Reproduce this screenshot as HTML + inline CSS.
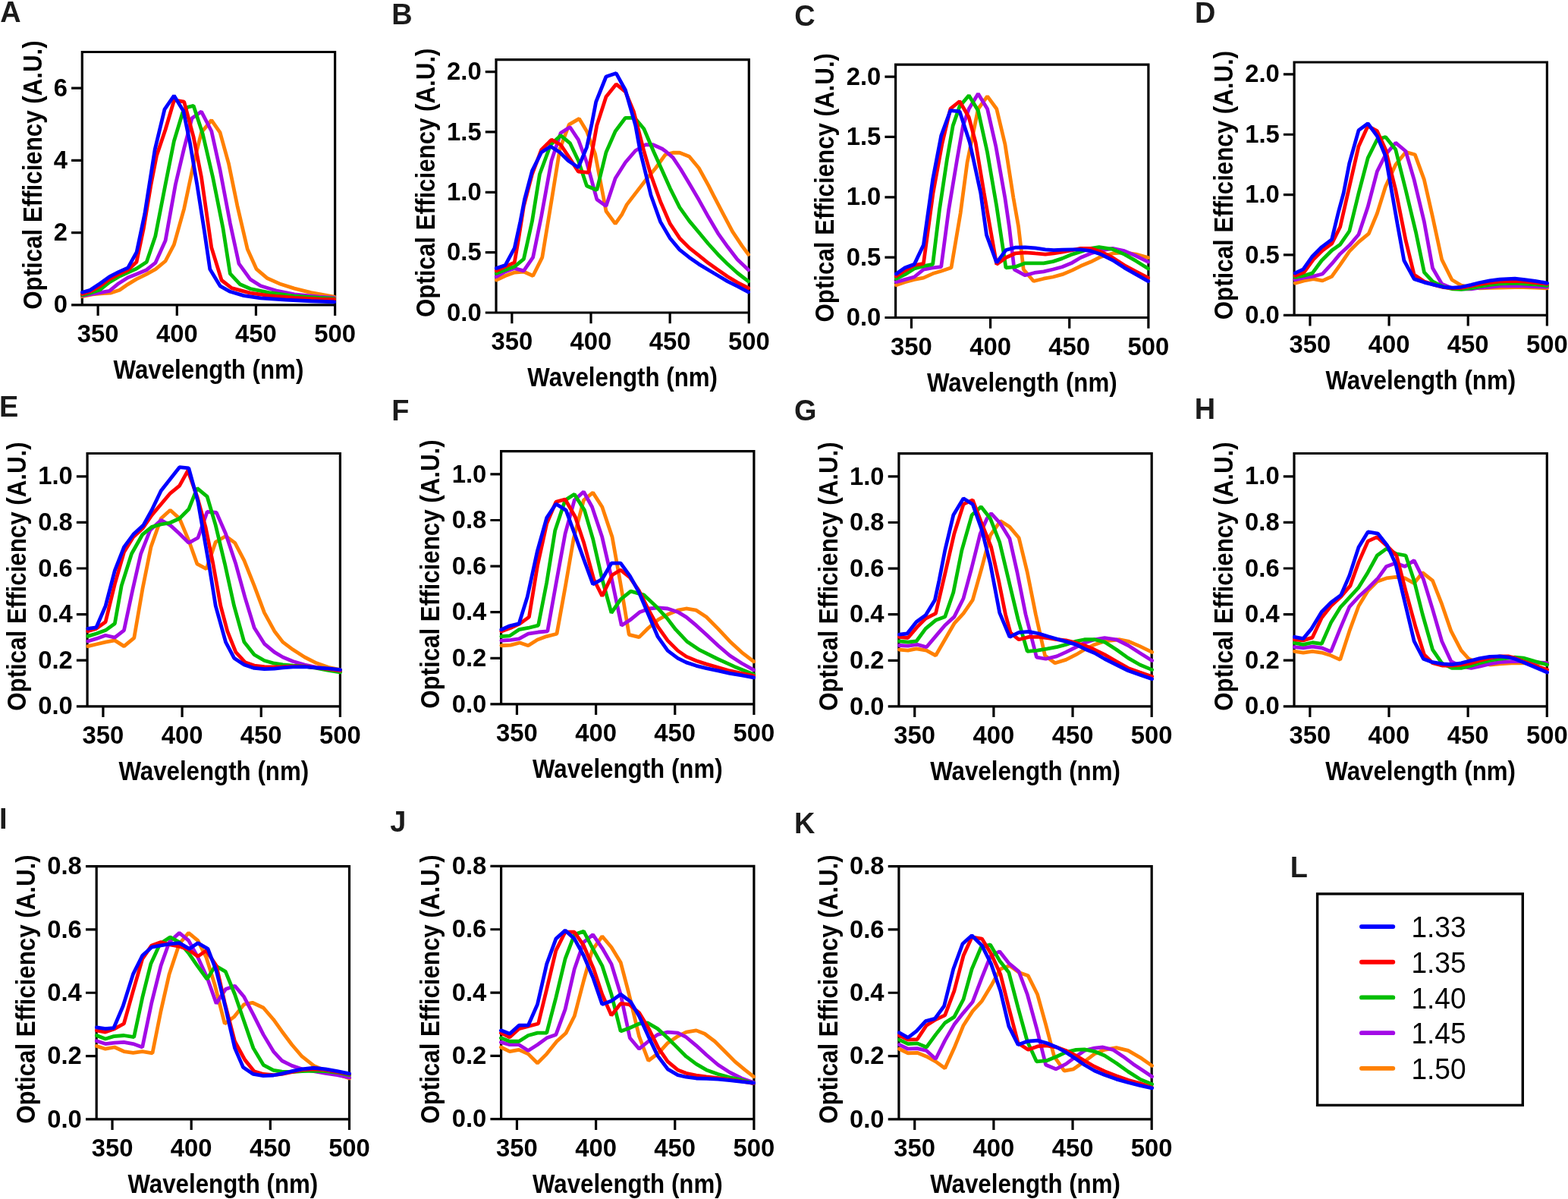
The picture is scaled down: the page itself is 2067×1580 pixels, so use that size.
<!DOCTYPE html>
<html><head><meta charset="utf-8"><title>Optical efficiency spectra</title>
<style>html,body{margin:0;padding:0;background:#fff;overflow:hidden;}svg{display:block;}text{font-family:"Liberation Sans",Arial,Helvetica,sans-serif;fill:#000000;}.t{font-weight:bold;font-size:32.8px;}.ti{font-weight:bold;font-size:34.3px;}.le{font-weight:bold;font-size:39.5px;fill:#1b1b1b;}.lg{font-size:39.3px;}.ax{fill:none;stroke:#000000;stroke-width:3.2;stroke-linecap:butt;}.cv{fill:none;stroke-width:4.8;stroke-linejoin:bevel;stroke-linecap:round;}</style></head><body>
<svg width="2067" height="1580" viewBox="0 0 2067 1580">
<rect x="0" y="0" width="2067" height="1580" fill="#fff"/>
<text class="le" transform="translate(0.16,28.8) scale(0.96,1)">A</text>
<path class="ax" d="M108.3,68.5H441.6V401.8H108.3ZM94.1,401.8H108.3M94.1,306.57H108.3M94.1,211.34H108.3M94.1,116.11H108.3M129.13,401.8V416M233.29,401.8V416M337.44,401.8V416M441.6,401.8V416" stroke-linejoin="miter"/>
<polyline class="cv" stroke="#FF8000" points="108.42,390.75 122.15,387.87 133.23,386.76 145.41,386.1 157.6,382.33 168.68,374.58 179.75,367.93 193.04,361.28 205.23,354.64 218.08,344.01 229.38,322.3 242.67,275.11 255.96,212.41 265.49,174.53 278.78,158.36 290.08,174.53 301.6,216.18 312.89,271.34 326.19,328.28 338.15,354.64 352.55,366.82 370.27,374.58 387.99,380.12 410.15,385.65 440.72,391.19"/>
<polyline class="cv" stroke="#A30AE6" points="108.42,389.64 132.12,385.65 144.31,383.44 156.49,373.47 168.68,365.72 179.97,361.28 193.04,355.75 204.79,346.44 218.08,316.98 231.37,242.99 242.67,195.36 253.08,155.7 265.49,147.06 278.78,172.76 290.08,223.93 303.37,294.16 314.89,347.33 329.95,368.15 343.69,376.79 365.84,383.44 387.99,387.87 421.22,391.19 440.72,392.3"/>
<polyline class="cv" stroke="#00BE00" points="108.42,388.98 118.83,386.1 132.12,381.67 144.31,371.92 156.49,364.61 168.68,359.07 179.97,353.97 193.27,345.33 204.79,311.22 218.08,242.99 229.38,186.05 240.89,147.95 247.32,141.3 255.07,139.31 267.26,176.53 280.55,233.46 293.84,299.92 303.37,360.62 316.66,374.8 329.95,380.56 354.76,385.65 387.99,390.08 421.22,392.3 440.72,393.41"/>
<polyline class="cv" stroke="#FF0000" points="108.42,387.43 118.83,384.1 132.12,376.79 144.31,367.93 156.49,361.28 168.68,355.75 179.97,345.33 189.5,299.92 199.03,242.99 206.56,204.88 218.08,170.77 229.6,131.78 242.67,134.21 255.07,180.29 265.49,233.46 278.78,326.28 292.07,369.26 305.36,379.67 329.95,386.1 354.76,389.64 387.99,392.3 421.22,394.07 440.72,394.51"/>
<polyline class="cv" stroke="#0000FF" points="108.42,385.21 118.83,382.33 132.12,373.47 144.31,364.61 156.49,358.4 168.68,352.87 180.19,332.04 190.83,281.53 204.12,197.35 216.97,144.18 229.38,126.02 241.78,146.18 250.64,189.6 259.73,242.99 269.25,303.69 276.78,354.86 290.08,376.79 303.37,384.32 321.53,389.64 343.69,392.96 376.92,395.18 410.15,396.73 440.72,397.84"/>
<text class="t" x="88.95" y="412.4" text-anchor="end">0</text>
<text class="t" x="88.95" y="317.17" text-anchor="end">2</text>
<text class="t" x="88.95" y="221.94" text-anchor="end">4</text>
<text class="t" x="88.95" y="126.71" text-anchor="end">6</text>
<text class="t" x="129.13" y="451" text-anchor="middle">350</text>
<text class="t" x="233.29" y="451" text-anchor="middle">400</text>
<text class="t" x="337.44" y="451" text-anchor="middle">450</text>
<text class="t" x="441.6" y="451" text-anchor="middle">500</text>
<text class="ti" transform="translate(274.95,499.2) scale(0.912,1)" text-anchor="middle">Wavelength (nm)</text>
<text class="ti" transform="translate(55.3,230.55) rotate(-90) scale(0.912,1)" text-anchor="middle">Optical Efficiency (A.U.)</text>
<text class="le" transform="translate(516.36,32) scale(0.96,1)">B</text>
<path class="ax" d="M654,78.7H987.3V412H654ZM639.8,412H654M639.8,332.64H654M639.8,253.29H654M639.8,173.93H654M639.8,94.57H654M674.83,412V426.2M778.99,412V426.2M883.14,412V426.2M987.3,412V426.2" stroke-linejoin="miter"/>
<polyline class="cv" stroke="#FF8000" points="654.3,369.07 666.05,363.53 678.23,359.1 690.41,357.99 702.6,363.53 714.78,339.16 728.07,258.08 738.04,196.27 750.23,164.15 763.52,156.4 773.49,173.01 784.57,202.92 798.97,278.24 811.15,294.86 820.01,282.27 826.32,269.62 839,253.16 851.65,236.7 864.3,221.51 876.97,203.78 887.09,201.26 895.95,201.26 908.6,206.33 921.27,221.51 933.92,244.3 940.26,256.95 952.91,281.01 965.58,305.07 978.23,324.05 986.6,335.44"/>
<polyline class="cv" stroke="#A30AE6" points="654.3,364.64 666.05,357.99 678.23,353.56 690.41,356.89 702.6,339.16 713.68,284.89 726.97,211.78 739.15,175.23 751.34,167.47 762.41,184.09 773.49,214 786.78,262.73 798.97,271.6 811.15,235.04 824.44,214 837.73,198.49 851.03,190.74 860.99,190.74 873.18,196.27 878.23,200 887.09,207.59 897.22,222.79 908.6,241.78 921.27,263.29 933.92,286.08 946.57,307.59 959.24,325.32 971.89,341.78 986.6,355.69"/>
<polyline class="cv" stroke="#00BE00" points="654.3,360.21 666.05,355.78 678.23,351.35 690.41,341.38 701.49,291.53 711.46,229.5 725.86,190.74 739.15,178.55 751.34,188.52 762.41,211.78 773.49,245.01 786.78,250.55 798.97,200.7 811.15,173.01 824.44,155.29 836.63,155.29 848.81,169.69 861.77,200 873.16,225.32 883.3,248.09 895.95,273.41 908.6,291.13 921.27,306.33 933.92,321.51 946.57,335.44 959.24,348.09 971.89,359.5 986.6,370.89"/>
<polyline class="cv" stroke="#FF0000" points="654.3,356.89 666.05,351.35 678.23,345.81 683.77,313.69 690.41,271.6 701.49,229.5 713.68,197.38 726.97,184.09 739.15,190.74 750.23,207.35 762.41,226.18 775.7,227.29 786.78,165.26 798.97,127.6 812.26,110.98 824.44,120.95 835.52,147.54 849.12,200 857.98,230.37 870.63,265.81 883.3,294.92 895.95,313.93 908.6,326.58 921.27,336.7 933.92,346.83 946.57,355.69 959.24,364.55 971.89,372.15 986.6,379.75"/>
<polyline class="cv" stroke="#0000FF" points="654.3,353.56 666.05,349.57 678.23,326.98 685.98,291.53 691.52,262.73 701.49,225.07 713.68,200.7 725.86,192.95 738.04,200.7 749.12,211.78 762.41,220.64 773.49,194.06 780.14,163.04 785.67,134.24 798.97,101.01 812.26,96.58 824.44,118.74 837.73,165.26 844.05,200 850.38,225.32 857.98,256.95 870.63,292.4 883.3,313.93 895.95,329.11 908.6,339.23 921.27,348.09 933.92,355.69 946.57,363.29 959.24,370.89 971.89,377.22 986.6,384.8"/>
<text class="t" x="634.65" y="422.6" text-anchor="end">0.0</text>
<text class="t" x="634.65" y="343.24" text-anchor="end">0.5</text>
<text class="t" x="634.65" y="263.89" text-anchor="end">1.0</text>
<text class="t" x="634.65" y="184.53" text-anchor="end">1.5</text>
<text class="t" x="634.65" y="105.17" text-anchor="end">2.0</text>
<text class="t" x="674.83" y="461.2" text-anchor="middle">350</text>
<text class="t" x="778.99" y="461.2" text-anchor="middle">400</text>
<text class="t" x="883.14" y="461.2" text-anchor="middle">450</text>
<text class="t" x="987.3" y="461.2" text-anchor="middle">500</text>
<text class="ti" transform="translate(820.65,509.4) scale(0.912,1)" text-anchor="middle">Wavelength (nm)</text>
<text class="ti" transform="translate(572.6,240.75) rotate(-90) scale(0.912,1)" text-anchor="middle">Optical Efficiency (A.U.)</text>
<text class="le" transform="translate(1047.34,34.31) scale(0.96,1)">C</text>
<path class="ax" d="M1180.6,85.2H1513.9V418.5H1180.6ZM1166.4,418.5H1180.6M1166.4,339.14H1180.6M1166.4,259.79H1180.6M1166.4,180.43H1180.6M1166.4,101.07H1180.6M1201.43,418.5V432.7M1305.59,418.5V432.7M1409.74,418.5V432.7M1513.9,418.5V432.7" stroke-linejoin="miter"/>
<polyline class="cv" stroke="#FF8000" points="1181.3,375.63 1193.05,371.64 1205.23,368.32 1217.41,366.1 1229.6,360.56 1240.68,357.24 1253.97,352.81 1266.15,280.81 1275.01,214.35 1289.41,143.46 1301.6,126.84 1313.78,143.46 1324.86,189.98 1335.93,260.87 1342.58,298.53 1349.23,355.02 1362.52,370.53 1375.81,367.21 1387.99,364.99 1400.18,361.67 1413.47,356.13 1424.55,350.59 1437.84,345.05 1451.13,338.41 1466.64,333.98 1482.15,332.87 1497.65,335.09 1513.6,339.52"/>
<polyline class="cv" stroke="#A30AE6" points="1181.3,371.64 1193.05,368.32 1205.23,364.99 1217.41,355.02 1229.6,352.81 1240.68,351.7 1250.64,276.38 1261.72,209.92 1269.47,165.61 1277.23,143.46 1289.41,123.52 1301.6,143.46 1312.67,192.2 1324.86,260.87 1330.4,298.53 1337.04,355.02 1351.44,362.78 1363.63,359.45 1375.81,357.9 1387.99,355.02 1400.18,351.7 1413.47,346.16 1424.55,339.52 1437.84,333.98 1448.92,330.66 1466.64,327.33 1482.15,330.66 1497.65,337.3 1513.6,345.05"/>
<polyline class="cv" stroke="#00BE00" points="1181.3,367.21 1193.05,361.67 1205.23,353.92 1217.41,350.59 1229.6,348.38 1238.46,276.38 1248.43,209.92 1256.18,165.61 1265.04,140.14 1277.23,125.74 1289.41,145.68 1301.6,201.06 1313.78,271.95 1325.97,352.81 1338.15,351.7 1351.44,346.83 1364.73,346.83 1375.81,346.83 1387.99,344.61 1400.18,340.62 1413.47,335.09 1424.55,331.76 1437.84,327.33 1448.92,325.56 1466.64,328.44 1482.15,335.09 1497.65,343.95 1513.6,353.92"/>
<polyline class="cv" stroke="#FF0000" points="1181.3,363.89 1193.05,356.57 1205.23,349.49 1217.41,347.27 1230.04,254.23 1241.78,189.98 1252.86,143.46 1265.04,133.49 1277.23,154.54 1286.09,187.77 1297.17,254.23 1304.92,298.53 1313.78,348.38 1325.97,339.52 1338.15,333.98 1351.44,332.87 1364.73,333.98 1378.03,335.09 1389.1,333.98 1400.18,332.21 1413.47,329.55 1424.55,327.33 1437.84,327.33 1451.13,331.76 1466.64,339.52 1482.15,349.49 1497.65,357.9 1513.6,366.1"/>
<polyline class="cv" stroke="#0000FF" points="1181.3,361.01 1193.05,352.81 1205.23,348.38 1217.41,322.9 1229.6,236.5 1240.68,178.91 1252.86,145.68 1265.04,146.78 1278.34,187.77 1292.74,254.23 1300.49,309.61 1313.78,346.16 1325.97,329.55 1338.15,326.22 1351.44,325.78 1364.73,326.89 1378.03,328.88 1389.1,329.55 1400.18,329.1 1413.47,328.88 1424.55,328.88 1437.84,330.66 1451.13,335.09 1466.64,342.84 1482.15,352.81 1497.65,361.67 1513.6,370.53"/>
<text class="t" x="1161.25" y="429.1" text-anchor="end">0.0</text>
<text class="t" x="1161.25" y="349.74" text-anchor="end">0.5</text>
<text class="t" x="1161.25" y="270.39" text-anchor="end">1.0</text>
<text class="t" x="1161.25" y="191.03" text-anchor="end">1.5</text>
<text class="t" x="1161.25" y="111.67" text-anchor="end">2.0</text>
<text class="t" x="1201.43" y="467.7" text-anchor="middle">350</text>
<text class="t" x="1305.59" y="467.7" text-anchor="middle">400</text>
<text class="t" x="1409.74" y="467.7" text-anchor="middle">450</text>
<text class="t" x="1513.9" y="467.7" text-anchor="middle">500</text>
<text class="ti" transform="translate(1347.25,515.9) scale(0.912,1)" text-anchor="middle">Wavelength (nm)</text>
<text class="ti" transform="translate(1099.2,247.25) rotate(-90) scale(0.912,1)" text-anchor="middle">Optical Efficiency (A.U.)</text>
<text class="le" transform="translate(1575.06,29.7) scale(0.96,1)">D</text>
<path class="ax" d="M1706.1,82H2039.4V415.3H1706.1ZM1691.9,415.3H1706.1M1691.9,335.94H1706.1M1691.9,256.59H1706.1M1691.9,177.23H1706.1M1691.9,97.87H1706.1M1726.93,415.3V429.5M1831.09,415.3V429.5M1935.24,415.3V429.5M2039.4,415.3V429.5" stroke-linejoin="miter"/>
<polyline class="cv" stroke="#FF8000" points="1707.3,373.18 1719.05,369.85 1731.23,367.64 1743.41,369.85 1755.6,364.32 1766.68,348.81 1778.86,331.09 1791.04,318.9 1804.34,307.82 1815.41,281.24 1826.49,245.8 1839.78,217 1853.07,200.38 1865.26,203.7 1877.44,236.93 1888.52,285.67 1900.7,342.16 1913.99,368.75 1926.18,376.06 1939.47,378.72 1950.55,379.82 1963.84,379.38 1977.13,379.16 1997.07,378.72 2008.15,378.72 2023.65,379.16 2039.6,379.82"/>
<polyline class="cv" stroke="#A30AE6" points="1707.3,368.75 1719.05,365.87 1730.12,364.32 1743.41,360.99 1755.6,347.7 1766.68,334.41 1778.86,323.33 1791.04,308.93 1803.23,272.38 1815.41,225.86 1826.49,203.7 1839.78,188.2 1853.07,199.27 1864.15,236.93 1877.44,292.32 1888.52,353.24 1900.7,374.28 1913.99,379.82 1926.18,380.93 1939.47,380.93 1950.55,379.16 1963.84,378.27 1977.13,376.94 1997.07,376.5 2008.15,376.94 2023.65,377.61 2039.6,378.27"/>
<polyline class="cv" stroke="#00BE00" points="1707.3,365.42 1719.05,363.21 1730.12,359.89 1742.31,343.27 1755.6,329.98 1766.68,322.22 1778.86,304.5 1791.04,254.66 1803.23,208.14 1815.41,183.77 1826.49,180.44 1839.78,197.06 1853.07,250.23 1866.37,305.61 1877.44,358.78 1888.52,370.96 1901.81,377.61 1915.1,380.93 1926.18,381.37 1939.47,379.82 1950.55,377.61 1963.84,375.39 1977.13,373.84 1997.07,373.18 2008.15,373.84 2023.65,374.73 2039.6,376.5"/>
<polyline class="cv" stroke="#FF0000" points="1707.3,363.21 1719.05,358.78 1731.23,342.16 1743.41,329.98 1755.6,321.12 1766.68,298.96 1778.86,245.8 1791.04,192.63 1803.23,166.04 1815.41,172.69 1826.49,197.06 1839.78,250.23 1853.07,316.69 1864.15,362.1 1877.44,370.96 1890.73,375.39 1902.92,378.72 1915.1,379.82 1926.18,379.38 1939.47,376.94 1950.55,374.73 1963.84,372.51 1977.13,370.96 1997.07,370.3 2008.15,370.96 2023.65,372.51 2039.6,374.28"/>
<polyline class="cv" stroke="#0000FF" points="1707.3,359.89 1717.94,354.79 1730.12,337.73 1742.31,325.55 1755.6,315.58 1764.46,279.03 1771.11,254.66 1778.86,214.78 1791.04,171.58 1803.23,162.72 1815.41,179.34 1826.49,205.92 1834.24,250.23 1842,294.53 1850.86,343.27 1864.15,367.64 1877.44,372.07 1890.73,375.39 1902.92,378.27 1915.1,379.16 1926.18,378.27 1939.47,375.39 1950.55,372.51 1963.84,369.85 1977.13,368.08 1997.07,367.2 2008.15,368.3 2023.65,370.3 2039.6,373.18"/>
<text class="t" x="1686.75" y="425.9" text-anchor="end">0.0</text>
<text class="t" x="1686.75" y="346.54" text-anchor="end">0.5</text>
<text class="t" x="1686.75" y="267.19" text-anchor="end">1.0</text>
<text class="t" x="1686.75" y="187.83" text-anchor="end">1.5</text>
<text class="t" x="1686.75" y="108.47" text-anchor="end">2.0</text>
<text class="t" x="1726.93" y="464.5" text-anchor="middle">350</text>
<text class="t" x="1831.09" y="464.5" text-anchor="middle">400</text>
<text class="t" x="1935.24" y="464.5" text-anchor="middle">450</text>
<text class="t" x="2039.4" y="464.5" text-anchor="middle">500</text>
<text class="ti" transform="translate(1872.75,512.7) scale(0.912,1)" text-anchor="middle">Wavelength (nm)</text>
<text class="ti" transform="translate(1624.7,244.05) rotate(-90) scale(0.912,1)" text-anchor="middle">Optical Efficiency (A.U.)</text>
<text class="le" transform="translate(-0.94,548.7) scale(0.96,1)">E</text>
<path class="ax" d="M115.1,597.5H448.4V930.8H115.1ZM100.9,930.8H115.1M100.9,870.2H115.1M100.9,809.6H115.1M100.9,749H115.1M100.9,688.4H115.1M100.9,627.8H115.1M135.93,930.8V945M240.09,930.8V945M344.24,930.8V945M448.4,930.8V945" stroke-linejoin="miter"/>
<polyline class="cv" stroke="#FF8000" points="115.86,851.62 126.94,848.97 139.12,846.09 151.31,843.87 163.49,851.62 176.78,840.55 187.86,776.3 198.94,720.92 212.23,683.26 224.41,672.18 236.6,683.26 248.78,712.06 259.86,743.07 272.04,749.72 284.23,714.27 297.52,706.52 309.7,715.38 321.89,738.64 335.18,771.87 348.47,807.32 361.76,831.69 372.84,846.09 386.13,856.05 401.64,866.02 417.15,873.78 432.65,879.32 448.6,882.64"/>
<polyline class="cv" stroke="#A30AE6" points="115.86,844.98 126.94,841.66 139.12,837.22 151.31,840.1 163.49,830.58 174.57,778.52 185.64,729.78 197.83,698.77 212.23,685.47 224.41,692.12 236.6,703.2 248.78,715.38 260.97,708.74 273.15,674.4 285.33,675.51 297.52,703.2 310.81,743.07 322.99,787.38 335.18,827.26 348.47,848.3 361.76,859.38 372.84,866.02 386.13,871.56 401.64,875.99 417.15,879.32 432.65,881.53 448.6,883.08"/>
<polyline class="cv" stroke="#00BE00" points="115.86,838.33 126.94,835.01 139.12,830.58 151.31,821.72 160.17,771.87 173.46,729.78 187.86,704.3 200.04,694.34 212.23,691.01 224.41,688.8 236.6,683.26 248.78,671.07 259.86,643.38 273.15,654.46 284.23,692.12 296.41,743.07 308.6,798.46 321.89,846.09 335.18,862.7 348.47,870.45 361.76,874.22 372.84,875.99 386.13,877.1 401.64,878.21 417.15,880.42 432.65,883.3 448.6,885.96"/>
<polyline class="cv" stroke="#FF0000" points="115.86,831.69 126.94,828.36 139.12,819.5 151.31,769.66 163.49,727.57 175.68,707.63 187.86,696.55 200.04,678.83 212.23,664.43 224.41,650.03 236.6,640.06 247.67,620.12 259.86,654.46 270.93,694.34 280.9,743.07 290.87,798.46 299.73,831.69 310.81,859.38 322.99,872.67 335.18,877.1 348.47,878.65 361.76,878.87 372.84,878.65 386.13,878.21 401.64,878.21 417.15,879.98 432.65,881.53 448.6,883.75"/>
<polyline class="cv" stroke="#0000FF" points="115.86,828.36 126.94,826.81 139.12,798.46 151.31,751.93 163.49,720.92 175.68,704.3 188.97,692.12 200.04,672.18 212.23,646.71 224.41,631.2 236.6,615.69 248.78,616.8 260.97,661.11 268.28,703.2 275.37,743.07 284.23,798.46 297.52,846.09 308.6,867.13 321.89,875.99 335.18,880.42 348.47,881.53 361.76,881.09 372.84,879.98 386.13,878.87 401.64,878.65 417.15,879.98 432.65,880.87 448.6,882.64"/>
<text class="t" x="95.75" y="941.4" text-anchor="end">0.0</text>
<text class="t" x="95.75" y="880.8" text-anchor="end">0.2</text>
<text class="t" x="95.75" y="820.2" text-anchor="end">0.4</text>
<text class="t" x="95.75" y="759.6" text-anchor="end">0.6</text>
<text class="t" x="95.75" y="699" text-anchor="end">0.8</text>
<text class="t" x="95.75" y="638.4" text-anchor="end">1.0</text>
<text class="t" x="135.93" y="980" text-anchor="middle">350</text>
<text class="t" x="240.09" y="980" text-anchor="middle">400</text>
<text class="t" x="344.24" y="980" text-anchor="middle">450</text>
<text class="t" x="448.4" y="980" text-anchor="middle">500</text>
<text class="ti" transform="translate(281.75,1028.2) scale(0.912,1)" text-anchor="middle">Wavelength (nm)</text>
<text class="ti" transform="translate(33.7,759.55) rotate(-90) scale(0.912,1)" text-anchor="middle">Optical Efficiency (A.U.)</text>
<text class="le" transform="translate(516.16,553.8) scale(0.96,1)">F</text>
<path class="ax" d="M660.6,594.6H993.9V927.9H660.6ZM646.4,927.9H660.6M646.4,867.3H660.6M646.4,806.7H660.6M646.4,746.1H660.6M646.4,685.5H660.6M646.4,624.9H660.6M681.43,927.9V942.1M785.59,927.9V942.1M889.74,927.9V942.1M993.9,927.9V942.1" stroke-linejoin="miter"/>
<polyline class="cv" stroke="#FF8000" points="660.86,850.73 673.05,850.07 685.23,846.97 696.31,850.73 708.49,842.98 720.68,838.55 733.97,835.22 745.04,774.3 756.12,710.06 769.41,659.11 781.6,649.14 793.78,667.97 807.07,707.84 818.15,769.87 829.23,836.33 842.52,839.66 854.7,827.47 867.99,816.39 880.18,809.75 893.47,804.21 904.55,801.99 917.84,804.21 931.13,813.07 946.64,828.58 962.15,845.19 977.65,859.59 993.6,871.78"/>
<polyline class="cv" stroke="#A30AE6" points="660.86,844.09 673.05,843.42 684.12,841.87 696.31,835.22 709.6,833.01 721.78,831.9 732.86,769.87 745.04,703.41 757.23,659.11 769.41,648.03 780.49,667.97 793.78,707.84 805.97,761.01 819.26,824.15 831.44,816.39 843.63,806.43 855.81,801.99 867.99,800.89 880.18,801.99 893.47,806.43 904.55,813.07 917.84,824.15 931.13,836.33 946.64,850.73 962.15,864.02 977.65,873.99 993.6,882.85"/>
<polyline class="cv" stroke="#00BE00" points="660.86,838.55 671.94,837.88 684.12,829.69 696.31,827.47 709.6,824.15 720.68,767.66 731.75,698.98 745.04,659.11 757.23,651.35 770.52,672.4 781.6,710.06 793.78,763.23 805.97,807.53 818.15,789.81 831.44,779.18 848.5,783.83 865.56,799.78 879.29,814.62 890.59,829.46 905.43,845.19 922.49,856.71 945.31,868.01 968.13,878.42 993.6,888.61"/>
<polyline class="cv" stroke="#FF0000" points="660.86,831.9 673.05,827.47 685.23,821.93 697.41,813.07 708.49,745.5 720.68,690.12 732.86,661.32 745.04,658 758.34,681.26 769.41,714.49 782.7,763.23 793.78,785.38 807.07,757.69 818.15,751.04 830.33,761.01 842.52,778.73 854.7,803.1 866.89,825.26 880.18,844.09 893.47,857.38 904.55,865.13 917.84,870.67 931.13,875.1 946.64,879.53 962.15,883.96 977.65,887.28 993.6,890.61"/>
<polyline class="cv" stroke="#0000FF" points="660.86,829.69 671.94,824.81 684.12,821.93 695.2,786.49 708.49,725.57 720.68,682.37 732.86,663.98 746.15,672.4 758.34,705.85 769.41,736.64 781.6,769.87 793.78,763.23 805.97,742.18 818.15,742.18 830.33,758.8 842.52,780.95 854.7,809.75 866.89,838.55 880.18,857.38 893.47,867.35 904.55,872.89 917.84,877.32 931.13,880.64 946.64,883.96 962.15,887.28 977.65,889.94 993.6,892.82"/>
<text class="t" x="641.25" y="938.5" text-anchor="end">0.0</text>
<text class="t" x="641.25" y="877.9" text-anchor="end">0.2</text>
<text class="t" x="641.25" y="817.3" text-anchor="end">0.4</text>
<text class="t" x="641.25" y="756.7" text-anchor="end">0.6</text>
<text class="t" x="641.25" y="696.1" text-anchor="end">0.8</text>
<text class="t" x="641.25" y="635.5" text-anchor="end">1.0</text>
<text class="t" x="681.43" y="977.1" text-anchor="middle">350</text>
<text class="t" x="785.59" y="977.1" text-anchor="middle">400</text>
<text class="t" x="889.74" y="977.1" text-anchor="middle">450</text>
<text class="t" x="993.9" y="977.1" text-anchor="middle">500</text>
<text class="ti" transform="translate(827.25,1025.3) scale(0.912,1)" text-anchor="middle">Wavelength (nm)</text>
<text class="ti" transform="translate(579.2,756.65) rotate(-90) scale(0.912,1)" text-anchor="middle">Optical Efficiency (A.U.)</text>
<text class="le" transform="translate(1046.94,554.21) scale(0.96,1)">G</text>
<path class="ax" d="M1184.9,597.6H1518.2V930.9H1184.9ZM1170.7,930.9H1184.9M1170.7,870.3H1184.9M1170.7,809.7H1184.9M1170.7,749.1H1184.9M1170.7,688.5H1184.9M1170.7,627.9H1184.9M1205.73,930.9V945.1M1309.89,930.9V945.1M1414.04,930.9V945.1M1518.2,930.9V945.1" stroke-linejoin="miter"/>
<polyline class="cv" stroke="#FF8000" points="1185.42,856.05 1196.94,857.16 1208.01,854.95 1221.31,857.16 1233.49,863.81 1245.68,842.76 1257.86,821.72 1270.04,808.43 1282.23,790.7 1294.41,747.5 1305.49,705.41 1318.78,686.58 1330.97,694.34 1343.15,708.74 1354.23,754.15 1365.3,809.53 1377.49,863.81 1390.78,873.78 1405.18,869.35 1418.47,862.7 1429.55,856.05 1442.84,849.41 1456.13,844.98 1476.07,842.76 1487.15,844.98 1502.65,851.62 1518.6,859.38"/>
<polyline class="cv" stroke="#A30AE6" points="1185.42,850.52 1196.94,851.18 1209.12,849.41 1221.31,852.73 1233.49,838.33 1245.68,823.93 1257.86,812.86 1270.04,788.49 1281.12,747.5 1292.2,703.2 1301.06,683.26 1306.6,676.61 1318.78,689.91 1330.97,709.84 1340.93,754.15 1352.01,809.53 1366.41,866.02 1378.6,868.24 1392.99,864.92 1405.18,859.38 1418.47,852.73 1429.55,847.19 1442.84,842.76 1456.13,840.55 1471.64,842.76 1487.15,850.52 1502.65,860.49 1518.6,870.45"/>
<polyline class="cv" stroke="#00BE00" points="1185.42,844.98 1196.94,846.09 1208.01,844.98 1220.2,828.36 1233.49,817.29 1245.68,812.86 1256.75,780.73 1267.83,725.35 1281.12,678.83 1293.3,667.75 1305.49,683.26 1317.67,714.27 1329.86,765.23 1342.04,816.18 1354.23,858.27 1367.52,857.16 1380.81,854.95 1392.99,852.73 1405.18,849.41 1418.47,844.98 1429.55,842.76 1442.84,842.76 1456.13,846.09 1471.64,856.05 1487.15,867.13 1502.65,875.99 1518.6,882.64"/>
<polyline class="cv" stroke="#FF0000" points="1185.42,839.44 1196.94,840.55 1209.12,826.15 1220.2,815.07 1233.49,808.43 1245.68,756.37 1257.86,703.2 1270.04,664.43 1282.23,658.89 1293.3,687.69 1306.6,720.92 1316.57,765.23 1325.43,809.53 1332.07,833.9 1343.15,842.76 1356.44,839.44 1369.73,839.44 1381.92,840.99 1394.1,842.76 1405.18,843.87 1418.47,847.19 1429.55,850.52 1442.84,856.05 1456.13,862.7 1471.64,871.56 1487.15,880.42 1502.65,885.96 1518.6,891.5"/>
<polyline class="cv" stroke="#0000FF" points="1185.42,836.12 1195.83,835.01 1208.01,819.5 1220.2,810.64 1232.38,790.7 1237.92,765.23 1245.68,725.35 1256.75,678.83 1270.04,656.68 1282.23,664.43 1294.41,698.77 1305.49,743.07 1317.67,807.32 1330.97,839.44 1343.15,833.46 1356.44,832.35 1369.73,835.01 1381.92,838.78 1394.1,842.32 1405.18,845.42 1418.47,849.41 1429.55,854.95 1442.84,860.49 1456.13,868.24 1471.64,875.99 1487.15,883.75 1502.65,889.28 1518.6,894.82"/>
<text class="t" x="1165.55" y="941.5" text-anchor="end">0.0</text>
<text class="t" x="1165.55" y="880.9" text-anchor="end">0.2</text>
<text class="t" x="1165.55" y="820.3" text-anchor="end">0.4</text>
<text class="t" x="1165.55" y="759.7" text-anchor="end">0.6</text>
<text class="t" x="1165.55" y="699.1" text-anchor="end">0.8</text>
<text class="t" x="1165.55" y="638.5" text-anchor="end">1.0</text>
<text class="t" x="1205.73" y="980.1" text-anchor="middle">350</text>
<text class="t" x="1309.89" y="980.1" text-anchor="middle">400</text>
<text class="t" x="1414.04" y="980.1" text-anchor="middle">450</text>
<text class="t" x="1518.2" y="980.1" text-anchor="middle">500</text>
<text class="ti" transform="translate(1351.55,1028.3) scale(0.912,1)" text-anchor="middle">Wavelength (nm)</text>
<text class="ti" transform="translate(1103.5,759.65) rotate(-90) scale(0.912,1)" text-anchor="middle">Optical Efficiency (A.U.)</text>
<text class="le" transform="translate(1574.66,551.6) scale(0.96,1)">H</text>
<path class="ax" d="M1706,597.5H2039.3V930.8H1706ZM1691.8,930.8H1706M1691.8,870.2H1706M1691.8,809.6H1706M1691.8,749H1706M1691.8,688.4H1706M1691.8,627.8H1706M1726.83,930.8V945M1830.99,930.8V945M1935.14,930.8V945M2039.3,930.8V945" stroke-linejoin="miter"/>
<polyline class="cv" stroke="#FF8000" points="1706.42,858.27 1717.94,860.04 1730.12,858.27 1742.31,860.04 1754.49,863.81 1766.68,869.35 1778.86,831.69 1791.04,798.46 1803.23,778.52 1815.41,766.33 1827.6,761.9 1839.78,760.35 1851.97,761.9 1864.15,768.55 1875.23,754.59 1888.52,765.23 1900.7,796.24 1912.89,831.69 1926.18,857.16 1936.15,868.24 1950.55,873.78 1963.84,875.99 1977.13,874.89 1992.64,873.78 2008.15,873.78 2023.65,873.78 2039.6,873.78"/>
<polyline class="cv" stroke="#A30AE6" points="1706.42,852.73 1717.94,853.84 1730.12,852.07 1742.31,853.84 1754.49,858.71 1766.68,828.36 1778.86,799.56 1791.04,786.27 1803.23,775.2 1816.52,761.9 1827.6,746.4 1839.78,741.97 1851.97,746.4 1864.15,738.64 1876.33,763.01 1888.52,802.89 1900.7,844.98 1912.89,871.56 1926.18,878.21 1939.47,880.42 1950.55,878.21 1963.84,874.89 1977.13,872.67 1992.64,871.56 2008.15,871.56 2023.65,872.67 2039.6,873.78"/>
<polyline class="cv" stroke="#00BE00" points="1706.42,847.19 1717.94,849.41 1730.12,846.75 1742.31,848.3 1754.49,820.61 1766.68,800.67 1778.86,787.38 1791.04,774.09 1803.23,754.15 1815.41,732 1827.6,723.14 1840.89,729.78 1853.07,732 1864.15,765.23 1875.23,809.53 1888.52,856.05 1900.7,873.78 1913.99,880.42 1926.18,880.42 1939.47,877.1 1950.55,873.78 1963.84,870.45 1977.13,868.24 1997.07,866.02 2008.15,867.13 2023.65,871.56 2039.6,875.99"/>
<polyline class="cv" stroke="#FF0000" points="1706.42,842.76 1717.94,843.87 1730.12,840.1 1742.31,813.96 1754.49,798.46 1767.78,786.27 1779.97,771.87 1791.04,740.86 1803.23,713.17 1815.41,707.63 1828.7,719.81 1840.89,732 1853.07,778.52 1866.37,827.26 1877.44,862.7 1888.52,873.78 1901.81,877.1 1913.99,877.1 1926.18,875.99 1939.47,873.78 1950.55,870.45 1963.84,867.13 1977.13,864.92 1988.21,864.92 1997.07,867.13 2008.15,871.56 2023.65,877.1 2039.6,882.64"/>
<polyline class="cv" stroke="#0000FF" points="1706.42,839.44 1717.94,841.66 1729.01,828.36 1742.31,806.21 1754.49,794.03 1767.78,784.06 1778.86,758.58 1791.04,720.92 1803.23,700.98 1816.52,703.2 1828.7,718.7 1839.78,743.07 1853.07,798.46 1864.15,844.98 1876.33,868.24 1888.52,872.67 1901.81,874.89 1913.99,875.55 1926.18,873.78 1939.47,870.45 1950.55,867.57 1963.84,865.36 1977.13,864.92 1988.21,866.02 1997.07,868.24 2008.15,872.67 2023.65,879.32 2039.6,885.96"/>
<text class="t" x="1686.65" y="941.4" text-anchor="end">0.0</text>
<text class="t" x="1686.65" y="880.8" text-anchor="end">0.2</text>
<text class="t" x="1686.65" y="820.2" text-anchor="end">0.4</text>
<text class="t" x="1686.65" y="759.6" text-anchor="end">0.6</text>
<text class="t" x="1686.65" y="699" text-anchor="end">0.8</text>
<text class="t" x="1686.65" y="638.4" text-anchor="end">1.0</text>
<text class="t" x="1726.83" y="980" text-anchor="middle">350</text>
<text class="t" x="1830.99" y="980" text-anchor="middle">400</text>
<text class="t" x="1935.14" y="980" text-anchor="middle">450</text>
<text class="t" x="2039.3" y="980" text-anchor="middle">500</text>
<text class="ti" transform="translate(1872.65,1028.2) scale(0.912,1)" text-anchor="middle">Wavelength (nm)</text>
<text class="ti" transform="translate(1624.6,759.55) rotate(-90) scale(0.912,1)" text-anchor="middle">Optical Efficiency (A.U.)</text>
<text class="le" transform="translate(-0.94,1092.4) scale(0.96,1)">I</text>
<path class="ax" d="M127.2,1141.6H460.5V1474.9H127.2ZM113,1474.9H127.2M113,1391.58H127.2M113,1308.25H127.2M113,1224.93H127.2M113,1141.6H127.2M148.03,1474.9V1489.1M252.19,1474.9V1489.1M356.34,1474.9V1489.1M460.5,1474.9V1489.1" stroke-linejoin="miter"/>
<polyline class="cv" stroke="#FF8000" points="127.42,1378.46 138.94,1382.22 151.12,1380.01 163.31,1385.55 175.49,1387.32 187.68,1385.55 200.97,1387.76 212.04,1332.38 223.12,1283.64 236.41,1243.77 248.6,1229.37 260.78,1239.34 271.86,1261.49 282.93,1296.93 296.23,1348.99 308.41,1340.13 321.7,1323.52 332.78,1321.3 347.18,1327.95 360.47,1343.46 371.55,1358.96 384.84,1376.69 398.13,1392.19 413.64,1404.38 429.15,1411.02 444.65,1415.45 460.6,1420.99"/>
<polyline class="cv" stroke="#A30AE6" points="127.42,1371.81 138.94,1375.58 151.12,1374.03 163.31,1373.36 175.49,1375.58 187.68,1380.01 199.86,1321.3 212.04,1272.57 223.12,1241.55 236.41,1229.37 248.6,1239.34 260.78,1261.49 272.97,1288.07 285.15,1322.41 297.33,1303.58 309.52,1299.15 321.7,1313.55 333.89,1336.81 347.18,1363.39 360.47,1385.55 371.55,1397.73 384.84,1404.38 398.13,1408.81 413.64,1411.69 429.15,1414.35 444.65,1416.56 460.6,1419.89"/>
<polyline class="cv" stroke="#00BE00" points="127.42,1364.5 138.94,1368.93 150.01,1365.61 163.31,1364.5 176.6,1366.72 187.68,1314.66 198.75,1270.35 210.94,1243.77 224.23,1234.91 236.41,1241.55 248.6,1255.95 260.78,1273.67 272.97,1290.29 284.04,1272.57 297.33,1280.32 309.52,1310.23 321.7,1345.67 333.89,1381.12 347.18,1403.27 360.47,1410.36 371.55,1412.13 384.84,1412.57 398.13,1411.69 413.64,1411.02 429.15,1411.69 444.65,1413.24 460.6,1416.56"/>
<polyline class="cv" stroke="#FF0000" points="127.42,1357.86 138.94,1360.07 151.12,1355.64 163.31,1348.99 175.49,1305.8 187.68,1263.7 199.86,1245.98 212.04,1241.55 224.23,1244.87 236.41,1247.09 248.6,1251.52 260.78,1260.38 271.86,1252.63 285.15,1272.57 296.23,1321.3 309.52,1372.26 322.81,1396.62 334.99,1411.69 347.18,1415.45 360.47,1416.56 371.55,1415.45 384.84,1412.57 398.13,1409.92 413.64,1408.81 429.15,1409.92 444.65,1412.57 460.6,1415.45"/>
<polyline class="cv" stroke="#0000FF" points="127.42,1353.87 138.94,1355.64 150.01,1354.53 162.2,1325.73 175.49,1283.64 187.68,1259.27 199.86,1248.2 212.04,1245.98 224.23,1243.77 236.41,1242.66 249.7,1250.41 260.78,1242.66 274.07,1250.41 285.15,1279.21 297.33,1327.95 309.52,1381.12 320.6,1406.59 333.89,1415.45 347.18,1417.67 360.47,1417.01 371.55,1414.79 384.84,1411.69 398.13,1408.81 413.64,1407.26 429.15,1408.81 444.65,1411.69 460.6,1414.79"/>
<text class="t" x="107.85" y="1485.5" text-anchor="end">0.0</text>
<text class="t" x="107.85" y="1402.17" text-anchor="end">0.2</text>
<text class="t" x="107.85" y="1318.85" text-anchor="end">0.4</text>
<text class="t" x="107.85" y="1235.53" text-anchor="end">0.6</text>
<text class="t" x="107.85" y="1152.2" text-anchor="end">0.8</text>
<text class="t" x="148.03" y="1524.1" text-anchor="middle">350</text>
<text class="t" x="252.19" y="1524.1" text-anchor="middle">400</text>
<text class="t" x="356.34" y="1524.1" text-anchor="middle">450</text>
<text class="t" x="460.5" y="1524.1" text-anchor="middle">500</text>
<text class="ti" transform="translate(293.85,1572.3) scale(0.912,1)" text-anchor="middle">Wavelength (nm)</text>
<text class="ti" transform="translate(45.8,1303.65) rotate(-90) scale(0.912,1)" text-anchor="middle">Optical Efficiency (A.U.)</text>
<text class="le" transform="translate(514.23,1095.81) scale(0.96,1)">J</text>
<path class="ax" d="M660.6,1141.4H993.9V1474.7H660.6ZM646.4,1474.7H660.6M646.4,1391.38H660.6M646.4,1308.05H660.6M646.4,1224.73H660.6M646.4,1141.4H660.6M681.43,1474.7V1488.9M785.59,1474.7V1488.9M889.74,1474.7V1488.9M993.9,1474.7V1488.9" stroke-linejoin="miter"/>
<polyline class="cv" stroke="#FF8000" points="660.42,1380.01 671.94,1385.55 684.12,1383.33 696.31,1388.87 708.49,1401.05 720.68,1388.87 733.97,1372.26 746.15,1361.18 757.23,1339.03 769.41,1292.5 780.49,1252.63 793.78,1233.8 805.97,1248.2 818.15,1268.14 829.23,1310.23 842.52,1365.61 854.7,1397.73 867.99,1387.76 880.18,1374.47 893.47,1365.61 904.55,1360.07 917.84,1357.86 928.92,1362.29 942.21,1372.26 955.5,1385.55 968.79,1398.84 982.08,1409.92 993.6,1418.78"/>
<polyline class="cv" stroke="#A30AE6" points="660.42,1373.36 671.94,1376.69 684.12,1376.69 696.31,1384.44 708.49,1376.69 720.68,1367.82 732.86,1363.39 745.04,1330.16 757.23,1277 769.41,1241.55 781.6,1231.58 793.78,1249.3 805.97,1270.35 818.15,1310.23 830.33,1367.82 842.52,1382.22 854.7,1372.26 866.89,1363.39 880.18,1360.07 893.47,1361.18 904.55,1366.72 917.84,1377.79 931.13,1389.98 946.64,1403.27 962.15,1413.24 977.65,1420.99 993.6,1426.53"/>
<polyline class="cv" stroke="#00BE00" points="660.42,1367.82 671.94,1372.26 684.12,1372.26 696.31,1364.5 708.49,1361.18 720.68,1361.18 732.86,1314.66 745.04,1263.7 757.23,1231.58 769.41,1227.15 781.6,1250.41 793.78,1272.57 805.97,1310.23 818.15,1358.96 830.33,1354.53 842.52,1348.99 853.6,1347.89 866.89,1355.64 880.18,1367.82 893.47,1381.12 904.55,1392.19 917.84,1402.16 931.13,1409.92 946.64,1415.45 962.15,1419.89 977.65,1423.21 993.6,1427.64"/>
<polyline class="cv" stroke="#FF0000" points="660.42,1361.18 671.94,1366.72 684.12,1355.64 696.31,1352.32 709.6,1348.99 720.68,1303.58 732.86,1252.63 745.04,1228.26 757.23,1228.26 769.41,1245.98 782.7,1277 793.78,1310.23 805.97,1337.92 818.15,1322.41 829.23,1323.52 842.52,1334.6 854.7,1354.53 867.99,1381.12 880.18,1398.84 893.47,1409.92 904.55,1414.35 917.84,1417.01 931.13,1418.78 946.64,1420.55 962.15,1422.77 977.65,1424.98 993.6,1427.64"/>
<polyline class="cv" stroke="#0000FF" points="660.42,1357.86 671.94,1362.29 684.12,1351.21 696.31,1351.21 708.49,1323.52 720.68,1270.35 732.86,1237.12 745.04,1226.04 757.23,1237.12 769.41,1259.27 781.6,1288.07 793.78,1323.52 805.97,1319.09 818.15,1310.23 831.44,1320.2 842.52,1339.03 854.7,1365.61 866.89,1391.09 880.18,1408.81 893.47,1416.56 904.55,1419.22 917.84,1420.99 931.13,1421.44 946.64,1422.1 962.15,1423.65 977.65,1425.42 993.6,1427.2"/>
<text class="t" x="641.25" y="1485.3" text-anchor="end">0.0</text>
<text class="t" x="641.25" y="1401.97" text-anchor="end">0.2</text>
<text class="t" x="641.25" y="1318.65" text-anchor="end">0.4</text>
<text class="t" x="641.25" y="1235.33" text-anchor="end">0.6</text>
<text class="t" x="641.25" y="1152" text-anchor="end">0.8</text>
<text class="t" x="681.43" y="1523.9" text-anchor="middle">350</text>
<text class="t" x="785.59" y="1523.9" text-anchor="middle">400</text>
<text class="t" x="889.74" y="1523.9" text-anchor="middle">450</text>
<text class="t" x="993.9" y="1523.9" text-anchor="middle">500</text>
<text class="ti" transform="translate(827.25,1572.1) scale(0.912,1)" text-anchor="middle">Wavelength (nm)</text>
<text class="ti" transform="translate(579.2,1303.45) rotate(-90) scale(0.912,1)" text-anchor="middle">Optical Efficiency (A.U.)</text>
<text class="le" transform="translate(1047.06,1097.9) scale(0.96,1)">K</text>
<path class="ax" d="M1184.9,1141.6H1518.2V1474.9H1184.9ZM1170.7,1474.9H1184.9M1170.7,1391.58H1184.9M1170.7,1308.25H1184.9M1170.7,1224.93H1184.9M1170.7,1141.6H1184.9M1205.73,1474.9V1489.1M1309.89,1474.9V1489.1M1414.04,1474.9V1489.1M1518.2,1474.9V1489.1" stroke-linejoin="miter"/>
<polyline class="cv" stroke="#FF8000" points="1185.42,1382.22 1196.94,1387.76 1209.12,1387.32 1221.31,1392.19 1233.49,1398.84 1245.68,1407.7 1257.86,1381.12 1270.04,1351.21 1282.23,1332.38 1294.41,1319.09 1307.7,1296.93 1318.78,1277 1330.97,1272.57 1343.15,1281.43 1355.33,1285.86 1367.52,1310.23 1378.6,1350.1 1389.67,1392.19 1402.96,1411.02 1415.15,1408.81 1429.55,1398.84 1442.84,1388.87 1456.13,1383.33 1471.64,1380.67 1487.15,1384.44 1502.65,1393.3 1518.6,1404.38"/>
<polyline class="cv" stroke="#A30AE6" points="1185.42,1376.69 1196.94,1382.22 1209.12,1381.56 1221.31,1384.44 1233.49,1395.52 1245.68,1371.15 1257.86,1350.1 1270.04,1334.6 1282.23,1320.2 1294.41,1288.07 1305.49,1260.38 1317.67,1253.74 1329.86,1269.24 1343.15,1280.32 1354.23,1310.23 1366.41,1354.53 1378.6,1403.27 1391.89,1408.81 1405.18,1402.16 1418.47,1392.19 1429.55,1384.44 1442.84,1381.12 1453.92,1380.01 1467.21,1383.33 1480.5,1392.19 1493.79,1402.16 1507.08,1411.02 1518.6,1418.78"/>
<polyline class="cv" stroke="#00BE00" points="1185.42,1370.04 1196.94,1375.58 1209.12,1374.91 1221.31,1380.01 1233.49,1363.39 1245.68,1347.89 1257.86,1340.13 1270.04,1316.87 1281.12,1277 1293.3,1248.2 1305.49,1244.87 1317.67,1265.92 1329.86,1281.43 1342.04,1327.95 1354.23,1372.26 1366.41,1398.84 1379.7,1397.73 1392.99,1392.19 1405.18,1386.66 1418.47,1383.33 1429.55,1382.89 1442.84,1385.55 1456.13,1391.09 1471.64,1401.05 1487.15,1412.13 1502.65,1422.1 1518.6,1428.75"/>
<polyline class="cv" stroke="#FF0000" points="1185.42,1364.5 1196.94,1370.04 1209.12,1369.6 1221.31,1351.21 1233.49,1343.46 1245.68,1337.92 1257.86,1305.8 1270.04,1259.27 1281.12,1234.91 1294.41,1237.12 1306.6,1257.06 1318.78,1283.64 1329.86,1327.95 1342.04,1374.47 1355.33,1383.33 1367.52,1378.9 1379.7,1377.79 1392.99,1380.01 1405.18,1384.44 1418.47,1391.09 1429.55,1397.73 1442.84,1405.49 1456.13,1411.69 1471.64,1417.67 1487.15,1423.21 1502.65,1427.64 1518.6,1433.18"/>
<polyline class="cv" stroke="#0000FF" points="1185.42,1360.74 1196.94,1367.38 1208.01,1358.96 1220.2,1345.67 1232.38,1342.35 1244.57,1325.73 1256.75,1277 1268.94,1243.77 1281.12,1232.69 1294.41,1245.98 1306.6,1270.35 1318.78,1305.8 1329.86,1352.32 1342.04,1376.69 1354.23,1372.26 1367.52,1371.15 1379.7,1374.47 1392.99,1380.01 1405.18,1386.66 1418.47,1395.52 1429.55,1403.27 1442.84,1411.02 1456.13,1416.56 1471.64,1422.1 1487.15,1426.53 1502.65,1430.3 1518.6,1433.84"/>
<text class="t" x="1165.55" y="1485.5" text-anchor="end">0.0</text>
<text class="t" x="1165.55" y="1402.17" text-anchor="end">0.2</text>
<text class="t" x="1165.55" y="1318.85" text-anchor="end">0.4</text>
<text class="t" x="1165.55" y="1235.53" text-anchor="end">0.6</text>
<text class="t" x="1165.55" y="1152.2" text-anchor="end">0.8</text>
<text class="t" x="1205.73" y="1524.1" text-anchor="middle">350</text>
<text class="t" x="1309.89" y="1524.1" text-anchor="middle">400</text>
<text class="t" x="1414.04" y="1524.1" text-anchor="middle">450</text>
<text class="t" x="1518.2" y="1524.1" text-anchor="middle">500</text>
<text class="ti" transform="translate(1351.55,1572.3) scale(0.912,1)" text-anchor="middle">Wavelength (nm)</text>
<text class="ti" transform="translate(1103.5,1303.65) rotate(-90) scale(0.912,1)" text-anchor="middle">Optical Efficiency (A.U.)</text>
<text class="le" transform="translate(1700.66,1155.7) scale(0.96,1)">L</text>
<rect class="ax" x="1736.6" y="1177.9" width="270.7" height="278.5" style="stroke-width:3.4"/>
<line x1="1794.9" y1="1221.05" x2="1836.3" y2="1221.05" stroke="#0000FF" stroke-width="5.8" stroke-linecap="round"/>
<text class="lg" transform="translate(1860.38,1235.25) scale(0.944,1)">1.33</text>
<line x1="1794.9" y1="1267.75" x2="1836.3" y2="1267.75" stroke="#FF0000" stroke-width="5.8" stroke-linecap="round"/>
<text class="lg" transform="translate(1860.38,1281.95) scale(0.944,1)">1.35</text>
<line x1="1794.9" y1="1314.45" x2="1836.3" y2="1314.45" stroke="#00BE00" stroke-width="5.8" stroke-linecap="round"/>
<text class="lg" transform="translate(1860.38,1328.65) scale(0.944,1)">1.40</text>
<line x1="1794.9" y1="1361.15" x2="1836.3" y2="1361.15" stroke="#A30AE6" stroke-width="5.8" stroke-linecap="round"/>
<text class="lg" transform="translate(1860.38,1375.35) scale(0.944,1)">1.45</text>
<line x1="1794.9" y1="1407.85" x2="1836.3" y2="1407.85" stroke="#FF8000" stroke-width="5.8" stroke-linecap="round"/>
<text class="lg" transform="translate(1860.38,1422.05) scale(0.944,1)">1.50</text>
</svg></body></html>
